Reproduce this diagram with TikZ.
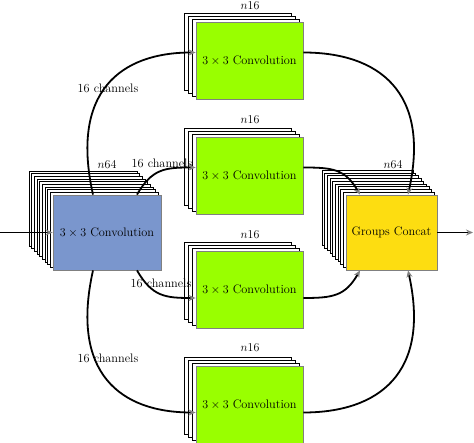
\documentclass[tikz,border=0pt]{standalone}
\usetikzlibrary{arrows.meta}
\definecolor{bluebox}{RGB}{122,150,205}
\definecolor{greenbox}{RGB}{153,255,0}
\definecolor{yellowbox}{RGB}{253,221,17}
\tikzset{
  txt/.style={font=\fontsize{12.3}{14}\selectfont, inner sep=0pt},
  frontbox/.style={draw=gray, line width=0.8pt, inner sep=0pt, txt},
  layer/.style={draw=black, fill=white, line width=0.5pt},
  conn/.style={draw=black, line width=1.8pt, -{Stealth[color=gray, length=7pt, width=6pt]}},
}
\begin{document}
\begin{tikzpicture}[x=1pt,y=1pt]
\clip (0,0) rectangle (474,442);
% stacked layers
\foreach \i in {9,...,1}
  \draw[layer] ({53-2.67*\i},{172+2.67*\i}) rectangle ++(108,75);
\foreach \i in {9,...,1}
  \draw[layer] ({346-2.67*\i},{172+2.78*\i}) rectangle ++(91,75);
\foreach \cy in {381.5,266.5,152,37.5}
  \foreach \i in {3,2,1}
    \draw[layer] ({196-4*\i},{\cy-38.5+3*\i}) rectangle ++(107,77);
% front boxes
\node[frontbox, fill=bluebox, minimum width=108pt, minimum height=75pt] (b) at (107,209.5) {$3\times3$ Convolution};
\node[frontbox, fill=greenbox, minimum width=107pt, minimum height=77pt] (g1) at (249.5,381.5) {$3\times3$ Convolution};
\node[frontbox, fill=greenbox, minimum width=107pt, minimum height=77pt] (g2) at (249.5,266.5) {$3\times3$ Convolution};
\node[frontbox, fill=greenbox, minimum width=107pt, minimum height=77pt] (g3) at (249.5,152) {$3\times3$ Convolution};
\node[frontbox, fill=greenbox, minimum width=107pt, minimum height=77pt] (g4) at (249.5,37.5) {$3\times3$ Convolution};
\node[frontbox, fill=yellowbox, minimum width=91pt, minimum height=75pt] (cat) at (391.5,209.5) {Groups Concat};
% labels
\node[txt] (lb) at (107,277) {$n64$};
\node[txt] (lc) at (393,277) {$n64$};
\node[txt] (l1) at (250,436) {$n16$};
\node[txt] (l2) at (250,322) {$n16$};
\node[txt] (l3) at (250,207) {$n16$};
\node[txt] (l4) at (250,94) {$n16$};
\node[txt] (c1) at (108,354) {16 channels};
\node[txt] (c2) at (162,279) {16 channels};
\node[txt] (c3) at (161,159) {16 channels};
\node[txt] (c4) at (108,84) {16 channels};
% input / output
\coordinate (src) at (0,209.5);
\coordinate (dst) at (473,209.5);
\draw[conn] (src) -- (b.west);
\draw[conn] (cat.east) -- (dst);
% split connectors
\draw[conn] ([xshift=-14pt]b.north) .. controls +(-23,103) and +(-75,0) .. ([yshift=8pt]g1.west);
\draw[conn] ([xshift=30pt]b.north) to[out=60,in=180,looseness=1.2] ([yshift=8pt]g2.west);
\draw[conn] ([xshift=30pt]b.south) to[out=-60,in=180,looseness=1.2] ([yshift=-8pt]g3.west);
\draw[conn] ([xshift=-14pt]b.south) .. controls +(-23,-103) and +(-75,0) .. ([yshift=-8pt]g4.west);
% merge connectors
\draw[conn] ([yshift=8pt]g1.east) .. controls +(75,0) and +(23,103) .. ([xshift=16.5pt]cat.north);
\draw[conn] ([yshift=8pt]g2.east) to[out=0,in=120,looseness=1.2] ([xshift=-31.5pt]cat.north);
\draw[conn] ([yshift=-8pt]g3.east) to[out=0,in=-120,looseness=1.2] ([xshift=-31.5pt]cat.south);
\draw[conn] ([yshift=-8pt]g4.east) .. controls +(75,0) and +(23,-103) .. ([xshift=16.5pt]cat.south);
\end{tikzpicture}
\end{document}
